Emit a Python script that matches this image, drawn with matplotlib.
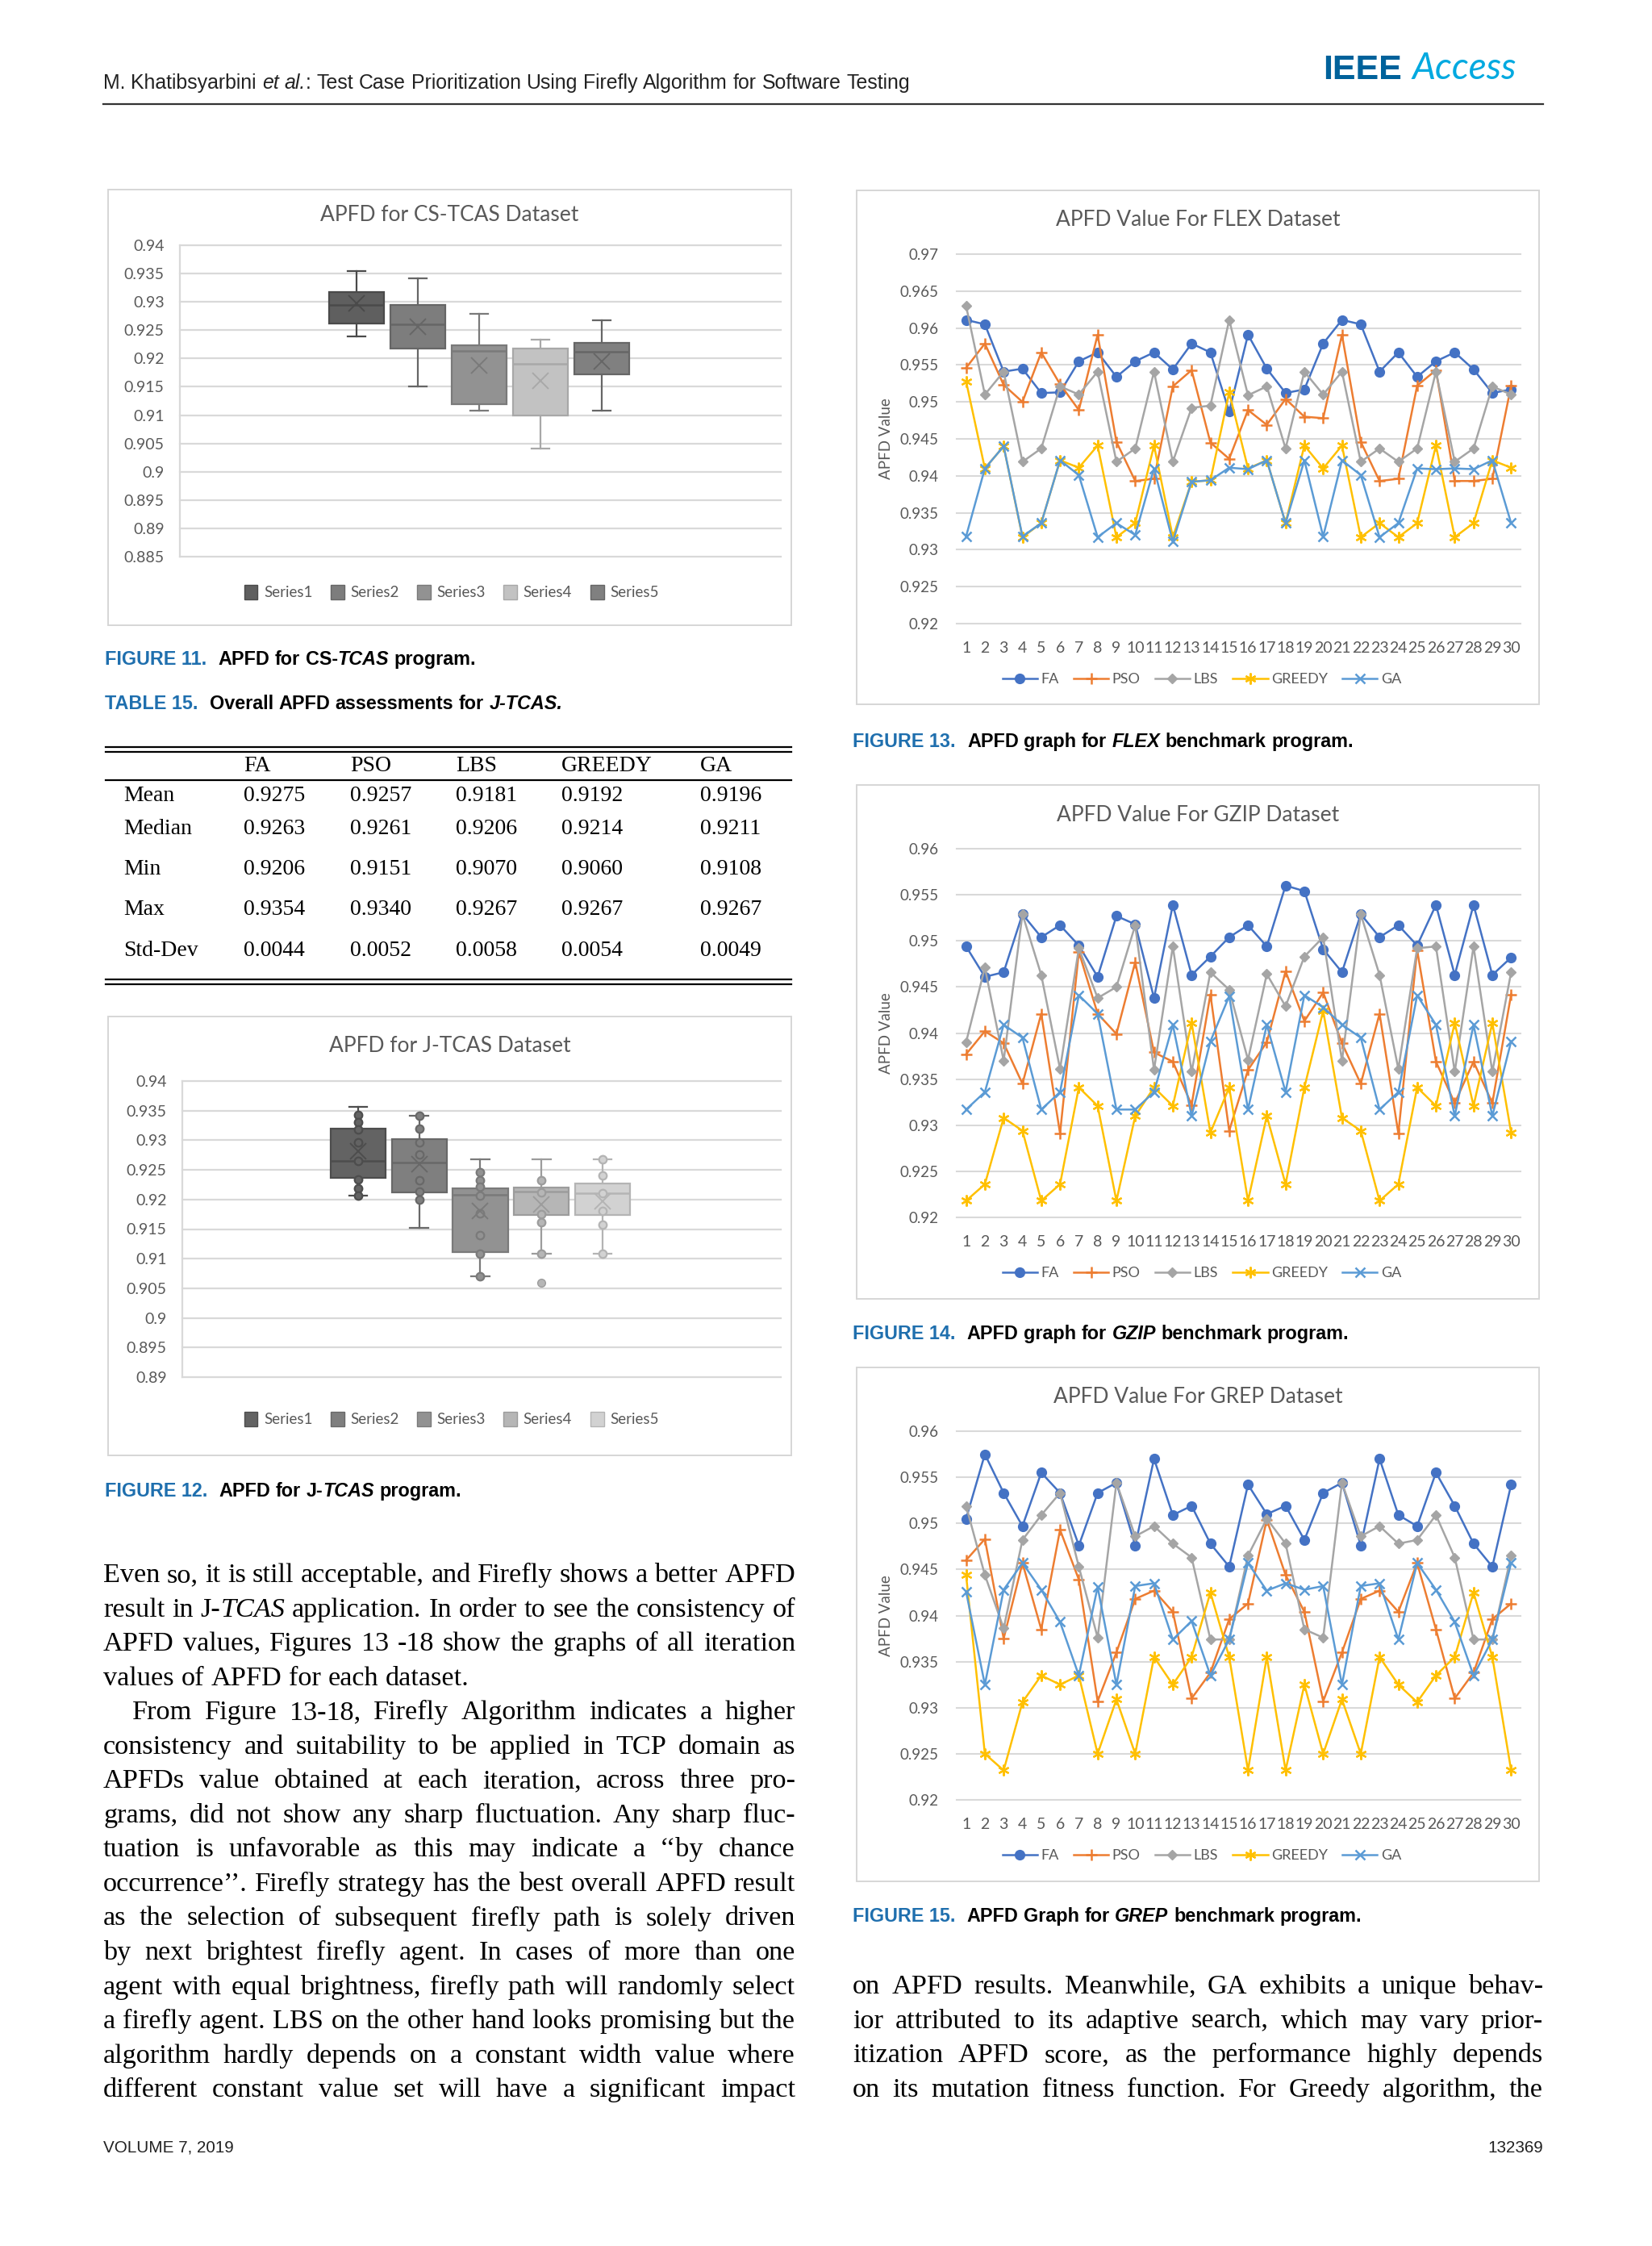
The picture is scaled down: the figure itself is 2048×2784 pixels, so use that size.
import re
import matplotlib
matplotlib.use('Agg')
import matplotlib.pyplot as plt
from matplotlib.patches import Rectangle, Patch
from matplotlib.lines import Line2D
from matplotlib.ticker import FuncFormatter

# ---------------- data ----------------
iterations = list(range(1, 31))
algorithms = ["FA", "PSO", "LBS", "GREEDY", "GA"]

flex_fa = [0.9611, 0.9605, 0.9541, 0.9545, 0.9512, 0.9513, 0.9555, 0.9567, 0.9534, 0.9555, 0.9567, 0.9544, 0.9579, 0.9567, 0.9487,
           0.9591, 0.9545, 0.9512, 0.9517, 0.9579, 0.9611, 0.9605, 0.9541, 0.9567, 0.9534, 0.9555, 0.9567, 0.9544, 0.9512, 0.9517]
flex_pso = [0.9546, 0.9579, 0.9523, 0.9500, 0.9567, 0.9524, 0.9489, 0.9591, 0.9446, 0.9393, 0.9396, 0.9521, 0.9543, 0.9445, 0.9423,
            0.9489, 0.9469, 0.9504, 0.9480, 0.9478, 0.9591, 0.9446, 0.9393, 0.9396, 0.9522, 0.9543, 0.9393, 0.9393, 0.9396, 0.9522]
flex_lbs = [0.9630, 0.9510, 0.9541, 0.9419, 0.9437, 0.9521, 0.9510, 0.9541, 0.9419, 0.9437, 0.9541, 0.9419, 0.9492, 0.9495, 0.9611,
            0.9509, 0.9521, 0.9437, 0.9541, 0.9510, 0.9541, 0.9419, 0.9437, 0.9419, 0.9437, 0.9541, 0.9419, 0.9437, 0.9521, 0.9510]
flex_greedy = [0.9528, 0.9410, 0.9440, 0.9317, 0.9336, 0.9421, 0.9411, 0.9441, 0.9317, 0.9336, 0.9441, 0.9317, 0.9392, 0.9394, 0.9513,
               0.9410, 0.9421, 0.9336, 0.9441, 0.9410, 0.9441, 0.9317, 0.9336, 0.9317, 0.9336, 0.9441, 0.9317, 0.9336, 0.9421, 0.9411]
flex_ga = [0.9318, 0.9410, 0.9440, 0.9318, 0.9336, 0.9421, 0.9401, 0.9317, 0.9336, 0.9320, 0.9410, 0.9311, 0.9392, 0.9394, 0.9411,
           0.9409, 0.9421, 0.9336, 0.9421, 0.9318, 0.9421, 0.9401, 0.9317, 0.9336, 0.9410, 0.9409, 0.9410, 0.9409, 0.9421, 0.9336]

gzip_fa = [0.9494, 0.9461, 0.9466, 0.9529, 0.9504, 0.9517, 0.9495, 0.9461, 0.9527, 0.9518, 0.9438, 0.9539, 0.9463, 0.9483, 0.9504,
           0.9517, 0.9494, 0.9560, 0.9554, 0.9491, 0.9466, 0.9529, 0.9504, 0.9517, 0.9495, 0.9539, 0.9463, 0.9539, 0.9463, 0.9482]
gzip_pso = [0.9377, 0.9402, 0.9389, 0.9345, 0.9421, 0.9291, 0.9488, 0.9421, 0.9399, 0.9477, 0.9379, 0.9369, 0.9322, 0.9442, 0.9294,
            0.9360, 0.9390, 0.9467, 0.9413, 0.9444, 0.9389, 0.9345, 0.9421, 0.9291, 0.9490, 0.9369, 0.9324, 0.9369, 0.9324, 0.9442]
gzip_lbs = [0.9390, 0.9471, 0.9370, 0.9529, 0.9463, 0.9361, 0.9492, 0.9438, 0.9450, 0.9517, 0.9360, 0.9494, 0.9358, 0.9466, 0.9447,
            0.9371, 0.9464, 0.9429, 0.9483, 0.9504, 0.9370, 0.9529, 0.9463, 0.9361, 0.9492, 0.9494, 0.9358, 0.9494, 0.9358, 0.9466]
gzip_greedy = [0.9218, 0.9236, 0.9308, 0.9294, 0.9218, 0.9236, 0.9341, 0.9321, 0.9218, 0.9310, 0.9341, 0.9321, 0.9411, 0.9292, 0.9341,
               0.9218, 0.9310, 0.9236, 0.9341, 0.9424, 0.9308, 0.9294, 0.9218, 0.9236, 0.9341, 0.9321, 0.9411, 0.9321, 0.9411, 0.9292]
gzip_ga = [0.9317, 0.9336, 0.9409, 0.9395, 0.9317, 0.9336, 0.9441, 0.9421, 0.9317, 0.9317, 0.9336, 0.9409, 0.9310, 0.9391, 0.9440,
           0.9317, 0.9409, 0.9336, 0.9441, 0.9428, 0.9409, 0.9395, 0.9317, 0.9336, 0.9441, 0.9409, 0.9310, 0.9409, 0.9310, 0.9391]

grep_fa = [0.9505, 0.9575, 0.9533, 0.9497, 0.9555, 0.9533, 0.9476, 0.9533, 0.9544, 0.9476, 0.9570, 0.9509, 0.9519, 0.9478, 0.9453,
           0.9542, 0.9510, 0.9519, 0.9482, 0.9533, 0.9544, 0.9476, 0.9570, 0.9509, 0.9497, 0.9555, 0.9519, 0.9478, 0.9453, 0.9542]
grep_pso = [0.9460, 0.9483, 0.9375, 0.9457, 0.9385, 0.9493, 0.9439, 0.9307, 0.9360, 0.9418, 0.9427, 0.9404, 0.9310, 0.9338, 0.9396,
            0.9413, 0.9504, 0.9444, 0.9404, 0.9307, 0.9360, 0.9418, 0.9427, 0.9404, 0.9457, 0.9385, 0.9310, 0.9338, 0.9396, 0.9413]
grep_lbs = [0.9519, 0.9444, 0.9386, 0.9482, 0.9509, 0.9533, 0.9453, 0.9376, 0.9544, 0.9486, 0.9497, 0.9478, 0.9463, 0.9374, 0.9374,
            0.9465, 0.9505, 0.9478, 0.9385, 0.9376, 0.9544, 0.9486, 0.9497, 0.9478, 0.9482, 0.9509, 0.9463, 0.9374, 0.9374, 0.9465]
grep_greedy = [0.9444, 0.9250, 0.9232, 0.9306, 0.9335, 0.9325, 0.9335, 0.9250, 0.9309, 0.9250, 0.9355, 0.9325, 0.9355, 0.9425, 0.9355,
               0.9232, 0.9355, 0.9232, 0.9325, 0.9250, 0.9309, 0.9250, 0.9355, 0.9325, 0.9306, 0.9335, 0.9355, 0.9425, 0.9355, 0.9232]
grep_ga = [0.9426, 0.9325, 0.9428, 0.9457, 0.9428, 0.9393, 0.9335, 0.9431, 0.9325, 0.9432, 0.9435, 0.9374, 0.9394, 0.9335, 0.9374,
           0.9457, 0.9427, 0.9435, 0.9428, 0.9432, 0.9325, 0.9432, 0.9435, 0.9374, 0.9457, 0.9428, 0.9393, 0.9335, 0.9374, 0.9457]

flex_yticks = [0.92, 0.925, 0.93, 0.935, 0.94, 0.945, 0.95, 0.955, 0.96, 0.965, 0.97]
gzip_yticks = [0.92, 0.925, 0.93, 0.935, 0.94, 0.945, 0.95, 0.955, 0.96]
grep_yticks = [0.92, 0.925, 0.93, 0.935, 0.94, 0.945, 0.95, 0.955, 0.96]

box_series = ["Series1", "Series2", "Series3", "Series4", "Series5"]
cs_whislo = [0.9239, 0.9151, 0.9108, 0.9041, 0.9108]
cs_q1 = [0.9262, 0.9218, 0.9119, 0.9099, 0.9172]
cs_med = [0.9294, 0.9261, 0.9214, 0.9191, 0.9212]
cs_q3 = [0.9318, 0.9294, 0.9223, 0.9217, 0.9227]
cs_whishi = [0.9355, 0.9342, 0.9279, 0.9233, 0.9267]
cs_mean = [0.9297, 0.9256, 0.9187, 0.9160, 0.9195]
cs_yticks = [0.885, 0.89, 0.895, 0.9, 0.905, 0.91, 0.915, 0.92, 0.925, 0.93, 0.935, 0.94]

j_whislo = [0.9206, 0.9152, 0.9070, 0.9109, 0.9109]
j_q1 = [0.9237, 0.9212, 0.9111, 0.9174, 0.9174]
j_med = [0.9265, 0.9263, 0.9208, 0.9214, 0.9211]
j_q3 = [0.9319, 0.9302, 0.9219, 0.9220, 0.9227]
j_whishi = [0.9357, 0.9342, 0.9268, 0.9268, 0.9268]
j_mean = [0.9281, 0.9259, 0.9180, 0.9192, 0.9197]
j_fliers = [[], [], [], [0.9060], []]
j_points = [[0.9343, 0.9330, 0.9318, 0.9296, 0.9265, 0.9234, 0.9219, 0.9206],
            [0.9342, 0.9319, 0.9296, 0.9276, 0.9233, 0.9213, 0.9200],
            [0.9246, 0.9233, 0.9222, 0.9207, 0.9177, 0.9140, 0.9108, 0.9070],
            [0.9233, 0.9212, 0.9175, 0.9162, 0.9109],
            [0.9268, 0.9240, 0.9211, 0.9180, 0.9158, 0.9109]]
j_yticks = [0.89, 0.895, 0.9, 0.905, 0.91, 0.915, 0.92, 0.925, 0.93, 0.935, 0.94]

table_cols = ["FA", "PSO", "LBS", "GREEDY", "GA"]
table_rows = ["Mean", "Median", "Min", "Max", "Std-Dev"]
table_vals = [["0.9275", "0.9257", "0.9181", "0.9192", "0.9196"],
              ["0.9263", "0.9261", "0.9206", "0.9214", "0.9211"],
              ["0.9206", "0.9151", "0.9070", "0.9060", "0.9108"],
              ["0.9354", "0.9340", "0.9267", "0.9267", "0.9267"],
              ["0.0044", "0.0052", "0.0058", "0.0054", "0.0049"]]

# ---------------- page setup ----------------
W, H = 2048, 2784
fig = plt.figure(figsize=(W / 100, H / 100), dpi=100)
fig.patch.set_facecolor('white')
R = fig.canvas.get_renderer()

CHART = ['Lato', 'DejaVu Sans']
SERIF = ['Liberation Serif', 'DejaVu Serif']
NARROW = ['Liberation Sans Narrow', 'Liberation Sans', 'DejaVu Sans']
GREY = '#595959'
BLUE_CAP = '#1f6fae'


def fx(x):
    return x / W


def fy(y):
    return 1 - y / H


def rect(x0, y0, x1, y1):
    return [fx(x0), fy(y1), (x1 - x0) / W, (y1 - y0) / H]


def width_of(s, **kw):
    t = fig.text(0, 0, s, **kw)
    w = t.get_window_extent(R).width
    t.remove()
    return w


def hline(x0, x1, y, lw=1.5, color='black'):
    fig.add_artist(Line2D([fx(x0), fx(x1)], [fy(y), fy(y)], transform=fig.transFigure, color=color, lw=lw))


def frame_box(x0, y0, x1, y1):
    fig.add_artist(Rectangle((fx(x0), fy(y1)), (x1 - x0) / W, (y1 - y0) / H, transform=fig.transFigure,
                             fill=False, ec='#d6d6d6', lw=1.4))


def parse_word(word):
    parts = re.split(r'_', word)
    runs = []
    for i, p in enumerate(parts):
        if p:
            runs.append((p, {'style': 'italic'} if i % 2 == 1 else {}))
    return runs


def draw_runs(x, y, runs, **common):
    for s, kw in runs:
        k = dict(common)
        k.update(kw)
        t = fig.text(fx(x), fy(y), s, ha='left', va='baseline', **k)
        x += t.get_window_extent(R).width
    return x


def runs_width(runs, **common):
    w = 0
    for s, kw in runs:
        k = dict(common)
        k.update(kw)
        w += width_of(s, **k)
    return w


def draw_line_words(x, y, words, gap, **common):
    for wd in words:
        x = draw_runs(x, y, wd, **common) + gap
    return x


def space_width(**common):
    return width_of('a a', **common) - width_of('aa', **common)


# ---------------- header / footer ----------------
hdr_kw = dict(family=NARROW, color='#222222')
hdr_words = [[("M.", {})], [("Khatibsyarbini", {})], [("et", {'style': 'italic'})],
             [("al.", {'style': 'italic'}), (":", {})]] + [[(w, {})] for w in
             "Test Case Prioritization Using Firefly Algorithm for Software Testing".split()]
base = 17
nat = sum(runs_width(w, fontsize=base, **hdr_kw) for w in hdr_words) + (len(hdr_words) - 1) * space_width(fontsize=base, **hdr_kw)
hfs = base * (1007 / nat)
draw_line_words(128, 110, hdr_words, space_width(fontsize=hfs, **hdr_kw), fontsize=hfs, **hdr_kw)
hline(128, 1913, 129, lw=1.6, color='#333333')

fig.text(fx(1640), fy(98), "IEEE", fontsize=31, fontweight='bold', color='#00629b', family=['Liberation Sans', 'DejaVu Sans'],
         ha='left', va='baseline')
fig.text(fx(1750), fy(98), "Access", fontsize=33, color='#00a9e0', family=['Lato', 'DejaVu Sans'], style='italic',
         fontweight='normal', ha='left', va='baseline')

foot_kw = dict(family=NARROW, color='#222222')
ffs = 14 * 162 / width_of("VOLUME 7, 2019", fontsize=14, **foot_kw)
fig.text(fx(128), fy(2668), "VOLUME 7, 2019", fontsize=ffs, ha='left', va='baseline', **foot_kw)
fig.text(fx(1913), fy(2668), "132369", fontsize=ffs, ha='right', va='baseline', **foot_kw)

# ---------------- captions ----------------
cap_kw = dict(family=NARROW, fontweight='bold')


def caption(x, y, label, words, fs):
    t = fig.text(fx(x), fy(y), label, fontsize=fs, color=BLUE_CAP, ha='left', va='baseline', **cap_kw)
    xx = x + t.get_window_extent(R).width + 2.2 * space_width(fontsize=fs, **cap_kw)
    ws = [parse_word(w) for w in words.split()]
    draw_line_words(xx, y, ws, space_width(fontsize=fs, **cap_kw), fontsize=fs, color='black', **cap_kw)


cap_words11 = "APFD for CS-_TCAS_ program."
w_l = width_of("FIGURE 11.", fontsize=17, **cap_kw)
w_r = sum(runs_width(parse_word(w), fontsize=17, **cap_kw) for w in cap_words11.split())
nat = w_l + w_r + (3 + 2.2) * space_width(fontsize=17, **cap_kw)
cfs = 17 * (461 / nat)
caption(130, 824, "FIGURE 11.", cap_words11, cfs)
caption(130, 879, "TABLE 15.", "Overall APFD assessments for _J-TCAS._", cfs)
caption(130, 1855, "FIGURE 12.", "APFD for J-_TCAS_ program.", cfs)
caption(1057, 926, "FIGURE 13.", "APFD graph for _FLEX_ benchmark program.", cfs)
caption(1057, 1660, "FIGURE 14.", "APFD graph for _GZIP_ benchmark program.", cfs)
caption(1057, 2382, "FIGURE 15.", "APFD Graph for _GREP_ benchmark program.", cfs)

# ---------------- table ----------------
tab_kw = dict(family=SERIF, fontsize=20, color='black')
hline(131, 981, 926, lw=1.6)
hline(131, 981, 932, lw=1.6)
hline(131, 981, 967, lw=1.6)
hline(131, 981, 1214, lw=1.6)
hline(131, 981, 1220, lw=1.6)
col_x = [302, 434, 565, 696, 868]
row_y = [986, 1027, 1077, 1127, 1179]
for cx, c in zip(col_x, table_cols):
    fig.text(fx(cx), fy(950), c, ha='left', va='center', **tab_kw)
for ry, rname, vals in zip(row_y, table_rows, table_vals):
    fig.text(fx(153), fy(ry), rname, ha='left', va='center', **tab_kw)
    for cx, v in zip(col_x, vals):
        fig.text(fx(cx), fy(ry), v, ha='left', va='center', **tab_kw)

# ---------------- body text ----------------
left_lines = [
    ("Even so, it is still acceptable, and Firefly shows a better APFD", True, 0),
    ("result in J-_TCAS_ application. In order to see the consistency of", True, 0),
    ("APFD values, Figures 13 -18 show the graphs of all iteration", True, 0),
    ("values of APFD for each dataset.", False, 0),
    ("From Figure 13-18, Firefly Algorithm indicates a higher", True, 36),
    ("consistency and suitability to be applied in TCP domain as", True, 0),
    ("APFDs value obtained at each iteration, across three pro-", True, 0),
    ("grams, did not show any sharp fluctuation. Any sharp fluc-", True, 0),
    ("tuation is unfavorable as this may indicate a \u2018\u2018by chance", True, 0),
    ("occurrence\u2019\u2019. Firefly strategy has the best overall APFD result", True, 0),
    ("as the selection of subsequent firefly path is solely driven", True, 0),
    ("by next brightest firefly agent. In cases of more than one", True, 0),
    ("agent with equal brightness, firefly path will randomly select", True, 0),
    ("a firefly agent. LBS on the other hand looks promising but the", True, 0),
    ("algorithm hardly depends on a constant width value where", True, 0),
    ("different constant value set will have a significant impact", True, 0),
]
right_lines = [
    ("on APFD results. Meanwhile, GA exhibits a unique behav-", True, 0),
    ("ior attributed to its adaptive search, which may vary prior-", True, 0),
    ("itization APFD score, as the performance highly depends", True, 0),
    ("on its mutation fitness function. For Greedy algorithm, the", True, 0),
]
body_kw = dict(family=SERIF, color='black')
bbase = 27
ratios = []
for lines, x0, x1 in ((left_lines, 128, 986), (right_lines, 1057, 1913)):
    for txt, just, ind in lines:
        ws = [parse_word(w) for w in txt.split()]
        nat = sum(runs_width(w, fontsize=bbase, **body_kw) for w in ws) + (len(ws) - 1) * space_width(fontsize=bbase, **body_kw)
        ratios.append((x1 - x0 - ind) / nat)
bfs = bbase * min(1.0, min(ratios))
sp = space_width(fontsize=bfs, **body_kw)


def set_column(lines, x0, x1, y0, dy):
    for i, (txt, just, ind) in enumerate(lines):
        ws = [parse_word(w) for w in txt.split()]
        xs = x0 + ind
        if just and len(ws) > 1:
            tot = sum(runs_width(w, fontsize=bfs, **body_kw) for w in ws)
            gap = (x1 - xs - tot) / (len(ws) - 1)
        else:
            gap = sp
        draw_line_words(xs, y0 + i * dy, ws, gap, fontsize=bfs, **body_kw)


set_column(left_lines, 128, 986, 1961, 42.55)
set_column(right_lines, 1057, 1913, 2471, 42.55)

# ---------------- line charts ----------------
series_style = [("FA", '#4472c4', 'o', 8.5, 1.0),
                ("PSO", '#ed7d31', '+', 10, 1.8),
                ("LBS", '#a5a5a5', 'D', 6.5, 1.0),
                ("GREEDY", '#ffc000', (6, 2, 0), 10, 1.6),
                ("GA", '#5b9bd5', 'x', 8, 1.8)]


def fmt(v, pos=None):
    return ('%.3f' % v).rstrip('0').rstrip('.')


def line_chart(frame, axb, title, title_y, yticks, data):
    frame_box(*frame)
    ax = fig.add_axes(rect(*axb))
    handles = []
    for (name, col, mk, ms, mew), vals in zip(series_style, data):
        h, = ax.plot(iterations, vals, color=col, lw=1.8, marker=mk, ms=ms, mfc=col, mec=col, mew=mew,
                     label=name, clip_on=False, zorder=3)
        handles.append(h)
    ax.set_xlim(0.5, 30.5)
    ax.set_ylim(yticks[0], yticks[-1])
    ax.set_yticks(yticks)
    ax.yaxis.set_major_formatter(FuncFormatter(fmt))
    ax.set_xticks(iterations)
    ax.set_xticklabels([str(i) for i in iterations])
    ax.yaxis.grid(True, color='#d9d9d9', lw=1.5)
    for gl in ax.get_ygridlines():
        gl.set_clip_on(False)
    ax.set_axisbelow(True)
    for s in ax.spines.values():
        s.set_visible(False)
    ax.tick_params(axis='both', length=0, colors=GREY)
    ax.tick_params(axis='y', pad=16, labelsize=13.5)
    ax.tick_params(axis='x', pad=16, labelsize=14)
    for lab in ax.get_xticklabels() + ax.get_yticklabels():
        lab.set_family(CHART)
    cx = (frame[0] + frame[2]) / 2
    fig.text(fx(cx), fy(title_y), title, ha='center', va='center', fontsize=19, color=GREY, family=CHART)
    fig.text(fx(1098), fy((axb[1] + axb[3]) / 2), "APFD Value", rotation=90, ha='center', va='center',
             fontsize=13.5, color=GREY, family=CHART)
    fig.legend(handles=handles, loc='center', bbox_to_anchor=(fx(1490), fy(axb[3] + 69)), ncol=5, frameon=False,
               prop={'family': CHART, 'size': 13}, labelcolor=GREY, handlelength=2.4, columnspacing=1.0,
               handletextpad=0.25, borderaxespad=0)


line_chart((1062, 236, 1908, 873), (1186, 315, 1885, 773), "APFD Value For FLEX Dataset", 273, flex_yticks,
           [flex_fa, flex_pso, flex_lbs, flex_greedy, flex_ga])
line_chart((1062, 973, 1908, 1610), (1186, 1052, 1885, 1509), "APFD Value For GZIP Dataset", 1010, gzip_yticks,
           [gzip_fa, gzip_pso, gzip_lbs, gzip_greedy, gzip_ga])
line_chart((1062, 1695, 1908, 2332), (1186, 1774, 1885, 2231), "APFD Value For GREP Dataset", 1731, grep_yticks,
           [grep_fa, grep_pso, grep_lbs, grep_greedy, grep_ga])

# ---------------- box charts ----------------


def box_chart(frame, axb, title, title_y, legend_y, yticks, whislo, q1, med, q3, whishi, mean, fliers,
              faces, edges, points=None):
    frame_box(*frame)
    ax = fig.add_axes(rect(*axb))
    pos = [1, 2, 3, 4, 5]
    stats = []
    for i in range(5):
        stats.append(dict(whislo=whislo[i], q1=q1[i], med=med[i], q3=q3[i], whishi=whishi[i], mean=mean[i],
                          fliers=fliers[i] if fliers else []))
    bp = ax.bxp(stats, positions=pos, widths=0.9, capwidths=0.3, patch_artist=True, showmeans=True,
                showfliers=True, manage_ticks=False)
    for i in range(5):
        bp['boxes'][i].set(facecolor=faces[i], edgecolor=edges[i], lw=1.6, zorder=2)
        bp['medians'][i].set(color=edges[i], lw=1.8, zorder=3)
        for k in (2 * i, 2 * i + 1):
            bp['whiskers'][k].set(color=edges[i], lw=1.6, zorder=1)
            bp['caps'][k].set(color=edges[i], lw=1.6, zorder=1)
        bp['means'][i].set(marker='x', markeredgecolor=edges[i], markersize=14, mew=1.4, zorder=5)
        bp['fliers'][i].set(marker='o', mfc=faces[i], mec=edges[i], ms=7, zorder=5)
    if points:
        for i, pts in enumerate(points):
            ax.scatter([pos[i]] * len(pts), pts, s=48, facecolor=faces[i], edgecolor=edges[i], lw=1.6, zorder=4)
    ax.set_xlim(-1.88, 7.92)
    ax.set_ylim(yticks[0], yticks[-1])
    ax.set_yticks(yticks)
    ax.yaxis.set_major_formatter(FuncFormatter(fmt))
    ax.set_xticks([])
    ax.yaxis.grid(True, color='#d9d9d9', lw=1.6)
    for gl in ax.get_ygridlines():
        gl.set_clip_on(False)
    ax.set_axisbelow(True)
    for k, s in ax.spines.items():
        s.set_visible(k == 'left')
    ax.spines['left'].set_color('#d9d9d9')
    ax.spines['left'].set_linewidth(1.6)
    ax.tick_params(axis='y', length=0, colors=GREY, pad=14, labelsize=14)
    for lab in ax.get_yticklabels():
        lab.set_family(CHART)
    cx = (frame[0] + frame[2]) / 2
    fig.text(fx(cx), fy(title_y), title, ha='center', va='center', fontsize=19, color=GREY, family=CHART)
    handles = [Patch(facecolor=faces[i], edgecolor=edges[i], label=box_series[i]) for i in range(5)]
    fig.legend(handles=handles, loc='center', bbox_to_anchor=(fx(cx + 2), fy(legend_y)), ncol=5, frameon=False,
               prop={'family': CHART, 'size': 13.5}, labelcolor=GREY, handlelength=0.9, handleheight=1.1,
               columnspacing=1.2, handletextpad=0.4, borderaxespad=0)


box_chart((134, 235, 981, 775), (223, 304, 968, 690), "APFD for CS-TCAS Dataset", 266, 734, cs_yticks,
          cs_whislo, cs_q1, cs_med, cs_q3, cs_whishi, cs_mean, None,
          ['#5f5f5f', '#7d7d7d', '#929292', '#c2c2c2', '#808080'],
          ['#4a4a4a', '#666666', '#7a7a7a', '#a8a8a8', '#666666'])
box_chart((134, 1260, 981, 1804), (226, 1340, 968, 1707), "APFD for J-TCAS Dataset", 1297, 1759, j_yticks,
          j_whislo, j_q1, j_med, j_q3, j_whishi, j_mean, j_fliers,
          ['#636363', '#7f7f7f', '#929292', '#b6b6b6', '#d2d2d2'],
          ['#4d4d4d', '#686868', '#7a7a7a', '#9c9c9c', '#b4b4b4'], points=j_points)

fig.savefig('out.png', dpi=100, facecolor='white')
